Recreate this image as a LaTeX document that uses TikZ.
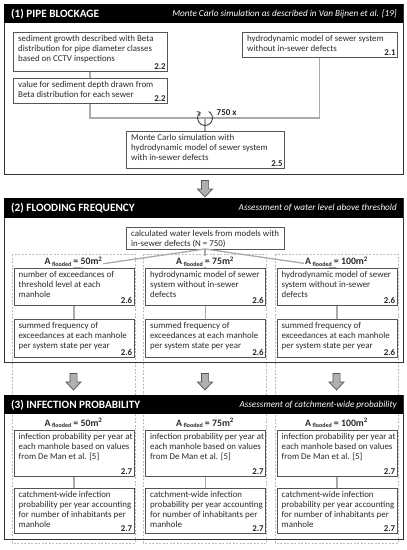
\documentclass[tikz,border=0pt]{standalone}
\usepackage{fontspec}
\setmainfont{Carlito}
\usetikzlibrary{arrows.meta}
\definecolor{boxline}{HTML}{555555}
\definecolor{connline}{HTML}{AAAAAA}
\definecolor{dashline}{HTML}{BBBBBB}
\definecolor{arrfill}{HTML}{B0B0B0}
\definecolor{inktext}{HTML}{2A2A2A}
\tikzset{
  secbox/.style={draw=black!80, line width=0.8pt},
  hdrbar/.style={fill=black},
  hdrtitle/.style={anchor=west, inner sep=0pt, text=white, font=\fontsize{11.2}{13}\selectfont\bfseries},
  hdrnote/.style={anchor=east, inner sep=0pt, text=white, font=\fontsize{9.2}{11}\selectfont\itshape},
  stagebox/.style={draw=boxline, line width=0.9pt, fill=white, inner sep=0pt, anchor=north west},
  boxtxt/.style={anchor=north west, inner sep=0pt, align=left, text=inktext, font=\fontsize{8.9}{10}\selectfont},
  boxnum/.style={anchor=south east, inner sep=2pt, text=inktext, font=\fontsize{8.9}{10}\selectfont\bfseries},
  conn/.style={draw=connline, line width=1.3pt},
  dcol/.style={draw=dashline, line width=0.5pt, dash pattern=on 2pt off 1.5pt},
  flabel/.style={fill=white, inner sep=1pt, text=inktext, font=\fontsize{9.8}{11}\selectfont\bfseries},
  bigarr/.style={draw=boxline, fill=arrfill, line width=0.7pt, line join=miter},
  cyc/.style={draw=black!75, line width=0.9pt, -{Straight Barb[length=2.5pt,width=5pt]}},
}
\newcommand\stage[7]{%
  \node[stagebox, minimum width=#4-#2, minimum height=#5-#3] (#1) at (#2,#3) {};
  \node[boxtxt] (#1t) at ([shift={(5,3.3)}]#1.north west) {#6};
  \node[boxnum] (#1n) at (#1.south east) {#7};
}
\newcommand\downarr[3]{% name, x, ytop
  \path[bigarr] (#2-3.6,#3) -- (#2+3.6,#3) -- (#2+3.6,#3+8.5) -- (#2+7.5,#3+8.5)
     -- (#2,#3+16.5) -- (#2-7.5,#3+8.5) -- (#2-3.6,#3+8.5) -- cycle;
  \coordinate (#1) at (#2,#3);
}
\newcommand\floodlab[2]{A\,\textsubscript{\fontsize{6}{7}\selectfont flooded}\,= #2m\textsuperscript{2}}
\begin{document}
\begin{tikzpicture}[x=1pt,y=-1pt]
\useasboundingbox (0,0) rectangle (407,550);
\fill[white] (0,0) rectangle (407,550);

% ---------- dashed columns ----------
\foreach \cx/\nm in {12/c1,143.5/c2,275/c3}{
  \draw[dcol] (\cx,254) rectangle (\cx+123,543);
}

% ---------- section outlines ----------
\draw[secbox] (4,4) rectangle (403,174);
\draw[secbox] (4,198) rectangle (403,362);
\draw[secbox] (4,395) rectangle (403,539);

% ---------- headers ----------
\fill[hdrbar] (4,4) rectangle (403,23);
\node[hdrtitle] (h1) at (11,13.7) {(1) PIPE BLOCKAGE};
\node[hdrnote] (h1n) at (397,13.7) {Monte Carlo simulation as described in Van Bijnen et al. [19]};
\fill[hdrbar] (4,198) rectangle (403,218);
\node[hdrtitle] (h2) at (11,208.2) {(2) FLOODING FREQUENCY};
\node[hdrnote] (h2n) at (397,208.2) {Assessment of water level above threshold};
\fill[hdrbar] (4,395) rectangle (403,414);
\node[hdrtitle] (h3) at (11,404.7) {(3) INFECTION PROBABILITY};
\node[hdrnote] (h3n) at (397,404.7) {Assessment of catchment-wide probability};

% ---------- section 1 ----------
\coordinate (j) at (205,118);
\draw[conn] (90,71) -- (90,78);
\draw[conn] (90,103) |- (j) -| (319.5,57);
\draw[conn] (j) -- (205,131);
\stage{sed}{13}{32}{167}{71}{sediment growth described with Beta\\distribution for pipe diameter classes\\based on CCTV inspections}{2.2}
\stage{hyd}{242}{32}{397}{57}{hydrodynamic model of sewer system\\without in-sewer defects}{2.1}
\stage{val}{13}{78}{167}{103}{value for sediment depth drawn from\\Beta distribution for each sewer}{2.2}
\stage{mc}{126}{131}{284}{168}{Monte Carlo simulation with\\hydrodynamic model of sewer system\\with in-sewer defects}{2.5}
\draw[cyc] ([shift={(-60:7.5)}]j) arc[start angle=-60, end angle=235, radius=7.5];
\node[anchor=west, inner sep=0pt, text=inktext, font=\fontsize{9}{10}\selectfont\bfseries] (rep) at (216.5,112.5) {750 x};

\downarr{a1}{205}{180.5}

% ---------- section 2 ----------
\stage{calc}{126}{227}{284}{249}{calculated water levels from models with\\in-sewer defects (N = 750)}{}
\foreach \nm/\bx in {f1/13.5,f2/145,f3/276.5}{
  \draw[conn] (205,249) -- (\bx+60,268);
}
\stage{f1}{13.5}{268}{133.5}{305}{number of exceedances of\\threshold level at each\\manhole}{2.6}
\stage{f2}{145}{268}{265}{305}{hydrodynamic model of sewer\\system without in-sewer\\defects}{2.6}
\stage{f3}{276.5}{268}{396.5}{305}{hydrodynamic model of sewer\\system without in-sewer\\defects}{2.6}
\node[flabel] (l1) at (73.5,261.5) {\floodlab{}{50}};
\node[flabel] (l2) at (205,261.5) {\floodlab{}{75}};
\node[flabel] (l3) at (336.5,261.5) {\floodlab{}{100}};
\stage{s1}{13.5}{319}{133.5}{357}{summed frequency of\\exceedances at each manhole\\per system state per year}{2.6}
\stage{s2}{145}{319}{265}{357}{summed frequency of\\exceedances at each manhole\\per system state per year}{2.6}
\stage{s3}{276.5}{319}{396.5}{357}{summed frequency of\\exceedances at each manhole\\per system state per year}{2.6}
\draw[conn] (f1.south) -- (s1.north);
\draw[conn] (f2.south) -- (s2.north);
\draw[conn] (f3.south) -- (s3.north);

\downarr{a2}{73.5}{373.5}
\downarr{a3}{205}{373.5}
\downarr{a4}{336.5}{373.5}

% ---------- section 3 ----------
\node[flabel] (m1) at (73.5,423) {\floodlab{}{50}};
\node[flabel] (m2) at (205,423) {\floodlab{}{75}};
\node[flabel] (m3) at (336.5,423) {\floodlab{}{100}};
\stage{p1}{13.5}{430}{133.5}{476}{infection probability per year at\\each manhole based on values\\from De Man et al. [5]}{2.7}
\stage{p2}{145}{430}{265}{476}{infection probability per year at\\each manhole based on values\\from De Man et al. [5]}{2.7}
\stage{p3}{276.5}{430}{396.5}{476}{infection probability per year at\\each manhole based on values\\from De Man et al. [5]}{2.7}
\stage{q1}{13.5}{488}{133.5}{533}{catchment-wide infection\\probability per year accounting\\for number of inhabitants per\\manhole}{2.7}
\stage{q2}{145}{488}{265}{533}{catchment-wide infection\\probability per year accounting\\for number of inhabitants per\\manhole}{2.7}
\stage{q3}{276.5}{488}{396.5}{533}{catchment-wide infection\\probability per year accounting\\for number of inhabitants per\\manhole}{2.7}
\draw[conn] (p1.south) -- (q1.north);
\draw[conn] (p2.south) -- (q2.north);
\draw[conn] (p3.south) -- (q3.north);
\end{tikzpicture}
\end{document}
